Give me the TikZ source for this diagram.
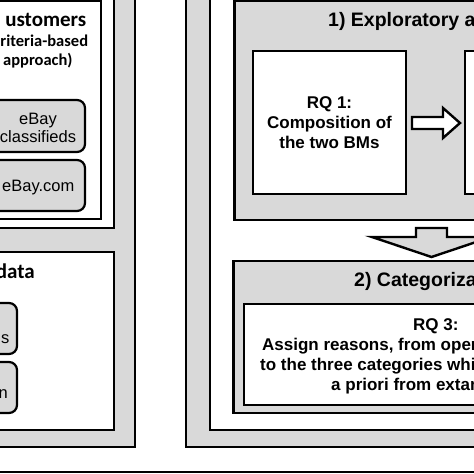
\documentclass[tikz,border=0pt]{standalone}
\usepackage{fontspec}
\setmainfont{Liberation Sans}
\newfontfamily\carl{Carlito}
\definecolor{gfill}{RGB}{217,217,217}
\begin{document}
\begin{tikzpicture}[x=1pt,y=-1pt,
  frame/.style={draw=black,line width=2.4pt},
  gpanel/.style={frame,fill=gfill},
  wbox/.style={frame,fill=white},
  rbox/.style={draw=black,line width=2.2pt,fill=gfill,rounded corners=8pt},
  rq/.style={font=\bfseries\fontsize{17}{20}\selectfont,inner sep=0pt},
  ttl/.style={font=\bfseries\fontsize{19.5}{23}\selectfont,inner sep=0pt},
  ctl/.style={font=\carl\bfseries\fontsize{21}{24}\selectfont,inner sep=0pt},
  csub/.style={font=\carl\bfseries\fontsize{16.5}{20}\selectfont,inner sep=0pt},
  reg/.style={font=\fontsize{16.5}{20}\selectfont,inner sep=0pt}]
\useasboundingbox (0,0) rectangle (474,474);
\clip (0,0) rectangle (474,474);
\fill[white] (0,0) rectangle (474,474);
% left column
\draw[gpanel] (-30,-30) rectangle (135,447);
\draw[wbox] (-30,-30) rectangle (114,228);
\draw[wbox] (-30,1) rectangle (101,219);
\draw[rbox] (-9,100) rectangle (85,152);
\draw[rbox] (-9,160) rectangle (85,211);
\draw[wbox] (-30,252) rectangle (114,430);
\draw[rbox] (-80,303) rectangle (17,354);
\draw[rbox] (-80,362) rectangle (17,413);
% right column
\draw[gpanel] (186,-30) rectangle (520,447);
\draw[wbox] (210,-30) rectangle (520,430);
\draw[gpanel] (234.5,1) rectangle (520,220);
\draw[wbox] (253,51) rectangle (406,194);
\draw[wbox] (465,51) rectangle (560,194);
\draw[wbox,line join=miter] (412,117) -- (443,117) -- (443,108) -- (460,123)
  -- (443,138) -- (443,129) -- (412,129) -- cycle;
\draw[gpanel,line join=miter] (416,228) -- (447,228) -- (447,237) -- (491,237)
  -- (431.5,257) -- (372,237) -- (416,237) -- cycle;
\draw[gpanel] (233.5,261) rectangle (520,413);
\draw[wbox] (244,304) rectangle (520,405);
\coordinate (bl) at (-30,472);
\coordinate (br) at (520,472);
\draw[frame] (bl) -- (br);
% texts left
\node[ctl,anchor=base east] (cust) at (86.5,26) {ustomers};
\node[csub,anchor=base east] (crit) at (88.3,46.5) {riteria-based};
\node[csub,anchor=base east] (appr) at (72.8,65.5) {approach)};
\node[reg,anchor=base] (ebay1) at (38,124) {eBay};
\node[reg,anchor=base] (ebay2) at (38,142.7) {classifieds};
\node[reg,anchor=base east] (ebay3) at (74.5,191.5) {eBay.com};
\node[ctl,anchor=base east] (data) at (35,278) {data};
\node[reg,anchor=base east] (ds) at (9.5,343) {s};
\node[reg,anchor=base east] (dn) at (8,398) {n};
% texts right
\node[ttl,anchor=base west] (t1) at (328,26.5) {1) Exploratory a};
\node[rq,anchor=base] (rq1a) at (329.5,108.3) {RQ 1:};
\node[rq,anchor=base] (rq1b) at (329.5,128.5) {Composition of};
\node[rq,anchor=base] (rq1c) at (329.5,148.5) {the two BMs};
\node[ttl,anchor=base west] (t2) at (354,286) {2) Categoriza};
\node[rq,anchor=base west] (rq3a) at (413,330.3) {RQ 3:};
\node[rq,anchor=base west] (rq3b) at (262,350.3) {Assign reasons, from open};
\node[rq,anchor=base west] (rq3c) at (260,370.3) {to the three categories whi};
\node[rq,anchor=base west] (rq3d) at (331,390.3) {a priori from extan};
\end{tikzpicture}
\end{document}
